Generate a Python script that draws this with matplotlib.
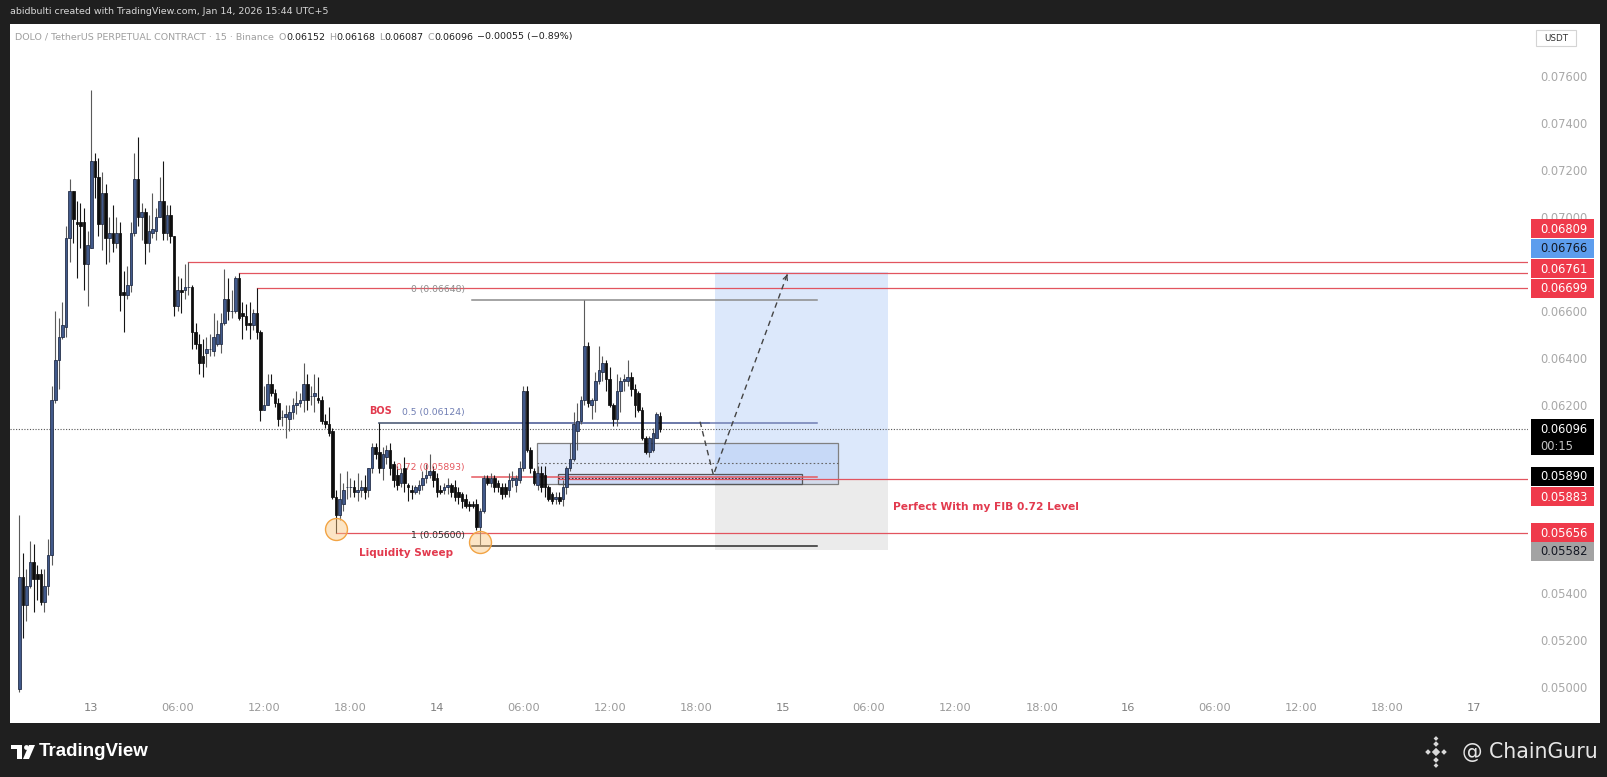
import matplotlib
matplotlib.use('Agg')
import matplotlib.pyplot as plt
from matplotlib.patches import Rectangle, Polygon, Circle

plt.rcParams['font.family'] = ['DejaVu Sans']

W, H = 1607, 777

# ---------------- data (15-min candles, Jan 12 19:00 -> Jan 14 15:30) -------------
opens = [
    .0499, .0547, .0535, .0543, .0553, .0548, .0548, .0536, .0543, .0556,
    .0622, .0639, .0649, .0653, .0691, .0711, .0698, .0698, .0698, .0680,
    .0687, .0724, .0717, .0697, .0710, .0691, .0693, .0689, .0693, .0668,
    .0667, .0671, .0693, .0716, .0700, .0702, .0689, .0693, .0694, .0700,
    .0707, .0693, .0701, .0692, .0662, .0669, .0669, .0670, .0670, .0651,
    .0646, .0641, .0642, .0644, .0643, .0646, .0646, .0655, .0665, .0660,
    .0660, .0674, .0659, .0658, .0655, .0654, .0659, .0651, .0618, .0620,
    .0629, .0625, .0621, .0615, .0615, .0614, .0617, .0620, .0621, .0622,
    .0629, .0624, .0624, .0623, .0622, .0613, .0612, .0609, .0581, .0573,
    .0578, .0585, .0585, .0585, .0583, .0584, .0585, .0584, .0593, .0602,
    .0600, .0593, .0598, .0601, .0595, .0590, .0587, .0593, .0586, .0584,
    .0583, .0584, .0586, .0589, .0590, .0592, .0589, .0584, .0584, .0585,
    .0586, .0585, .0583, .0582, .0580, .0578, .0578, .0578, .0568, .0575,
    .0589, .0587, .0589, .0587, .0585, .0585, .0584, .0588, .0586, .0588,
    .0593, .0626, .0601, .0592, .0586, .0591, .0590, .0585, .0582, .0580,
    .0581, .0580, .0585, .0593, .0597, .0609, .0613, .0622, .0645, .0620,
    .0622, .0630, .0634, .0638, .0631, .0620, .0614, .0626, .0630, .0630,
    .0632, .0627, .0625, .0618, .0606, .0600, .0601, .0606, .06152]
highs = [
    .0573, .0557, .0550, .0562, .0561, .0552, .0550, .0550, .0563, .0628,
    .0660, .0657, .0664, .0696, .0716, .0711, .0707, .0706, .0704, .0694,
    .0754, .0727, .0725, .0719, .0714, .0700, .0705, .0700, .0698, .0677,
    .0679, .0698, .0727, .0734, .0706, .0704, .0701, .0710, .0704, .0717,
    .0724, .0705, .0705, .0692, .0675, .0674, .0680, .06809, .0671, .0655,
    .0650, .0648, .0649, .0650, .0659, .0656, .0659, .0678, .0674, .0669,
    .0675, .06761, .0664, .0663, .0664, .0661, .06699, .0652, .0628, .0633,
    .0633, .0627, .0623, .0618, .0620, .0620, .0623, .0626, .0625, .0638,
    .0633, .0628, .0633, .0632, .0624, .0616, .0619, .0610, .0584, .0591,
    .0587, .0592, .0589, .0588, .0591, .0588, .0590, .0593, .0604, .0604,
    .06124, .0602, .0603, .0604, .0596, .0594, .0593, .0598, .0587, .0586,
    .0586, .0588, .0592, .0595, .0599, .0594, .0591, .0586, .0587, .0589,
    .0587, .0588, .0585, .0583, .0582, .0579, .0579, .0580, .0576, .0590,
    .0590, .0591, .0590, .0588, .0587, .0587, .0591, .0592, .0590, .0596,
    .0628, .0628, .0602, .0593, .0594, .0594, .0594, .0586, .0583, .0583,
    .0583, .0588, .0594, .0604, .0617, .0621, .0624, .06648, .0647, .0623,
    .0634, .0645, .0641, .0639, .0636, .0621, .0633, .0632, .0633, .0639,
    .0634, .0629, .0626, .0619, .0607, .0607, .0610, .0617, .06168]
lows = [
    .0498, .0521, .0528, .0542, .0532, .0537, .0535, .0532, .0539, .0552,
    .0621, .0627, .0648, .0649, .0681, .0689, .0674, .0687, .0669, .0662,
    .0687, .0708, .0692, .0686, .0680, .0681, .0685, .0687, .0660, .0651,
    .0665, .0668, .0692, .0696, .0690, .0680, .0685, .0691, .0690, .0700,
    .0690, .0690, .0689, .0658, .0660, .0659, .0665, .0667, .0644, .0644,
    .0633, .0632, .0636, .0641, .0641, .0645, .0642, .0654, .0656, .0657,
    .0659, .0656, .0648, .0652, .0648, .0652, .0648, .0613, .0618, .0620,
    .0624, .0619, .0611, .0611, .0606, .0609, .0614, .0616, .0619, .0617,
    .0618, .0620, .0617, .0621, .0612, .0610, .0607, .0580, .05656, .0571,
    .0575, .0580, .0581, .0581, .0579, .0581, .0580, .0581, .0591, .0597,
    .0591, .0588, .0595, .0590, .0585, .0584, .0585, .0583, .0579, .0580,
    .0582, .0582, .0584, .0587, .0589, .0585, .0581, .0582, .0582, .0582,
    .0581, .0579, .0578, .0576, .0576, .0575, .0576, .0567, .0560, .0574,
    .0586, .0585, .0583, .0583, .0580, .0581, .0581, .0585, .0583, .0587,
    .0592, .0600, .0591, .0586, .0584, .0583, .0581, .0579, .0578, .0578,
    .0578, .0577, .0582, .0592, .0596, .0601, .0612, .0620, .0619, .0614,
    .0617, .0629, .0630, .0626, .0619, .0611, .0611, .0617, .0626, .0628,
    .0624, .0615, .0617, .0605, .0599, .0598, .0600, .0606, .06087]
closes = [
    .0547, .0535, .0543, .0553, .0546, .0546, .0536, .0543, .0556, .0622,
    .0639, .0649, .0654, .0691, .0711, .0699, .0697, .0696, .0680, .0688,
    .0724, .0717, .0697, .0710, .0691, .0693, .0689, .0693, .0667, .0667,
    .0671, .0693, .0716, .0700, .0702, .0689, .0694, .0695, .0700, .0707,
    .0693, .0701, .0692, .0662, .0669, .0668, .0670, .0670, .0651, .0646,
    .0638, .0638, .0644, .0644, .0649, .0650, .0655, .0665, .0660, .0660,
    .0674, .0657, .0658, .0654, .0654, .0659, .0651, .0618, .0620, .0629,
    .0625, .0621, .0614, .0615, .0616, .0617, .0620, .0621, .0622, .0629,
    .0622, .0624, .0625, .0622, .0613, .0612, .0608, .0581, .0573, .0580,
    .0584, .0585, .0585, .0583, .0584, .0585, .0583, .0593, .0602, .0599,
    .0593, .0599, .0601, .0593, .0588, .0586, .0591, .0587, .0585, .0583,
    .0585, .0586, .0589, .0590, .0592, .0588, .0583, .0583, .0585, .0586,
    .0583, .0581, .0581, .0579, .0577, .0577, .0577, .0568, .0575, .0589,
    .0587, .0589, .0585, .0585, .0582, .0582, .0588, .0589, .0589, .0593,
    .0626, .0601, .0593, .0587, .0591, .0585, .0585, .0580, .0579, .0581,
    .0579, .0585, .0593, .0597, .0612, .0613, .0622, .0645, .0621, .0622,
    .0630, .0635, .0638, .0631, .0620, .0614, .0626, .0630, .0631, .0632,
    .0627, .0620, .0618, .0606, .0600, .0606, .0608, .0616, .06096]

header_change = -0.00055
header_pct = -0.89

time_labels = ['13', '06:00', '12:00', '18:00', '14', '06:00', '12:00', '18:00',
               '15', '06:00', '12:00', '18:00', '16', '06:00', '12:00', '18:00', '17']
day_labels = {'13', '14', '15', '16', '17'}
# price-scale tick labels that are visible (others are covered by level labels)
price_ticks = [0.076, 0.074, 0.072, 0.070, 0.066, 0.064, 0.062,
               0.054, 0.052, 0.050]

red_levels = [0.06809, 0.06761, 0.06699, 0.05656, 0.05883]
red_starts = [47, 61, 66, 88, 149.6]

fib_names = ['0', '0.5', '0.72', '1']
fib_levels = [0.06648, 0.06124, 0.05893, 0.05600]
fib_colors = ['#8c8c8c', '#6f7db3', '#e5585f', '#2b2b2b']

bos_level = 0.06124
last_price = 0.06096
entry, target, stop = 0.05883, 0.06766, 0.05582
zone_top, zone_bot, zone_mid = 0.06037, 0.05862, 0.05952
inner_top, inner_line = 0.05905, 0.05890
path_x = [189.1, 192.8, 213.6]
path_y = [0.06129, 0.05902, 0.06767]
sweep_x = [88, 128]
sweep_y = [0.05672, 0.05617]

# price-scale labels: (value, face, text colour, vertical nudge px)
scale_labels = [
    (0.06809, '#ef3a4b', 'white', -33),
    (0.06766, '#5d9ded', '#131722', -23.5),
    (0.06761, '#ef3a4b', 'white', -4.5),
    (0.06699, '#ef3a4b', 'white', 0.5),
    (0.05890, '#000000', 'white', -1.5),
    (0.05883, '#ef3a4b', 'white', 17.5),
    (0.05656, '#ef3a4b', 'white', 0),
    (0.05582, '#a3a3a3', '#131722', 1),
]

# ---------------- figure ----------------
fig = plt.figure(figsize=(W / 100, H / 100), dpi=100, facecolor='#1f1f1f')

bg = fig.add_axes([0, 0, 1, 1], zorder=-10)
bg.set_xlim(0, W); bg.set_ylim(H, 0); bg.axis('off')
bg.add_patch(Rectangle((10, 24), 1590, 699, facecolor='white', edgecolor='none'))

L_, R_, T_, B_ = 10, 1528, 24, 695
ax = fig.add_axes([L_ / W, 1 - B_ / H, (R_ - L_) / W, (B_ - T_) / H], zorder=1)
ax.set_facecolor('white')
ax.set_xlim(-2.58, 419.08)
ax.set_ylim(0.04966, 0.07821)
for s in ax.spines.values():
    s.set_visible(False)

# time axis
ax.set_xticks([20 + 24 * i for i in range(len(time_labels))])
ax.set_xticklabels(time_labels)
ax.tick_params(axis='x', length=0, pad=5.5, labelsize=8.2, labelcolor='#9a9a9a')
for t in ax.get_xticklabels():
    if t.get_text() in day_labels:
        t.set_color('#808080')
# price axis
ax.yaxis.tick_right()
ax.set_yticks(price_ticks)
ax.set_yticklabels(['%.5f' % p for p in price_ticks])
ax.tick_params(axis='y', length=0, pad=8.6, labelsize=8.3, labelcolor='#a8a8a8')

# position tool
ax.add_patch(Rectangle((193.3, entry), 48, target - entry, facecolor='#dce8fb',
                       edgecolor='none', zorder=1))
ax.add_patch(Rectangle((193.3, stop), 48, entry - stop, facecolor='#ebebeb',
                       edgecolor='none', zorder=1))

# zone boxes
ax.add_patch(Rectangle((143.8, zone_bot), 83.6, zone_top - zone_bot,
                       facecolor=(0.55, 0.68, 0.93, 0.25), edgecolor='#808080',
                       lw=0.9, zorder=2))
ax.plot([143.8, 227.4], [zone_mid, zone_mid], ls=(0, (1.5, 2)), color='#666666',
        lw=0.8, zorder=3)
ax.add_patch(Rectangle((149.6, zone_bot), 67.8, inner_top - zone_bot,
                       facecolor=(0.55, 0.68, 0.93, 0.25), edgecolor='#555555',
                       lw=0.9, zorder=2))
ax.plot([149.6, 217.4], [inner_line, inner_line], ls=(0, (1.5, 1.5)), color='#333333',
        lw=0.8, zorder=3)

# red horizontal rays
for lvl, xs in zip(red_levels, red_starts):
    ax.plot([xs, 419.08], [lvl, lvl], color='#e2545f', lw=0.9, zorder=3)

# current price line
ax.axhline(last_price, color='#555555', lw=0.8, ls=(0, (1, 1.5)), zorder=2)

# BOS line
ax.plot([100, 191.7], [bos_level, bos_level], color='#5d6a82', lw=1.3, zorder=3)
# fib levels
for name, lvl, col in zip(fib_names, fib_levels, fib_colors):
    ax.plot([125.8, 221.6], [lvl, lvl], color=col, lw=1.1, zorder=3)
    ax.annotate('%s (%.5f)' % (name, lvl), xy=(123.8, lvl), xytext=(0, 10),
                textcoords='offset pixels', ha='right', va='center', fontsize=6.7,
                color=col, zorder=5)

# candles
xs = list(range(len(opens)))
up = [c >= o for o, c in zip(opens, closes)]
for i in xs:
    lo = min(lows[i], opens[i], closes[i])
    hi = max(highs[i], opens[i], closes[i])
    ax.vlines(i, lo, hi, color='#5a5a5a' if up[i] else '#151515', lw=0.8, zorder=4)
ax.bar(xs, [c - o for o, c in zip(opens, closes)], bottom=opens, width=0.76,
       color=['#41598a' if u else '#0d0d0d' for u in up],
       edgecolor=['#1a2540' if u else '#0d0d0d' for u in up], lw=0.55, zorder=5)

# projected path
ax.plot(path_x, path_y, color='#444444', lw=1.0, ls=(0, (4, 3)), zorder=6)
ax.annotate('', xy=(path_x[-1], path_y[-1]), xytext=(path_x[-1] - 0.6, path_y[-1] - 0.00025),
            arrowprops=dict(arrowstyle='->', color='#444444', lw=0.9,
                            mutation_scale=8), zorder=6)

# sweep circles
ax.scatter(sweep_x, sweep_y, s=250, facecolor=(0.98, 0.78, 0.5, 0.45),
           edgecolor='#f2a444', lw=1.0, zorder=6)

# texts
ax.text(100.3, 0.06174, 'BOS', color='#e23a4e', fontsize=7.0, fontweight='bold',
        ha='center', va='center', zorder=7)
ax.text(107.4, 0.05570, 'Liquidity Sweep', color='#e23a4e', fontsize=7.5,
        fontweight='bold', ha='center', va='center', zorder=7)
ax.text(242.7, 0.05766, 'Perfect With my FIB 0.72 Level', color='#e23a4e',
        fontsize=7.7, fontweight='bold', ha='left', va='center', zorder=7)

# ---------------- overlay (pixel coords) ----------------
ov = fig.add_axes([0, 0, 1, 1], zorder=10)
ov.set_xlim(0, W); ov.set_ylim(H, 0); ov.axis('off'); ov.patch.set_alpha(0)


def py_of(p):
    return H - ax.transData.transform((0, p))[1]


for val, face, tc, nud in scale_labels:
    cy = py_of(val) + nud
    ov.add_patch(Rectangle((1531, cy - 9.5), 63, 19, facecolor=face, edgecolor='none'))
    ov.text(1540, cy + 0.5, '%.5f' % val, color=tc, fontsize=8.3, ha='left', va='center')
cy = py_of(last_price)
ov.add_patch(Rectangle((1531, cy - 10), 63, 36, facecolor='black', edgecolor='none'))
ov.text(1540, cy + 0.5, '%.5f' % last_price, color='white', fontsize=8.3, ha='left', va='center')
ov.text(1540, cy + 17.5, '00:15', color='#c4c4c4', fontsize=8.3, ha='left', va='center')

# USDT box
ov.add_patch(Rectangle((1536, 30), 40, 16, facecolor='white', edgecolor='#d4d4d4', lw=0.8))
ov.text(1556, 38.5, 'USDT', fontsize=6.3, color='#333333', ha='center', va='center')

# top title
ov.text(10, 12, 'abidbulti created with TradingView.com, Jan 14, 2026 15:44 UTC+5',
        color='#d6d6d6', fontsize=6.8, ha='left', va='center')

# header legend
r = fig.canvas.get_renderer()
segs = [('DOLO / TetherUS PERPETUAL CONTRACT \u00b7 15 \u00b7 Binance', '#9f9f9f', 5),
        ('O', '#9f9f9f', 0), ('%.5f' % opens[-1], '#1e1e1e', 4),
        ('H', '#9f9f9f', 0), ('%.5f' % highs[-1], '#1e1e1e', 4),
        ('L', '#9f9f9f', 0), ('%.5f' % lows[-1], '#1e1e1e', 4),
        ('C', '#9f9f9f', 0), ('%.5f' % closes[-1], '#1e1e1e', 4),
        ('\u2212%.5f (\u2212%.2f%%)' % (abs(header_change), abs(header_pct)), '#1e1e1e', 0)]
x0 = 15
for s, c, gap in segs:
    t = ov.text(x0, 37, s, color=c, fontsize=6.8, ha='left', va='center')
    x0 += t.get_window_extent(renderer=r).width + gap

# bottom branding
ov.add_patch(Rectangle((11, 745), 11, 4, facecolor='white', edgecolor='none'))
ov.add_patch(Rectangle((17, 745), 5, 14, facecolor='white', edgecolor='none'))
ov.add_patch(Circle((26.5, 747.5), 2.4, facecolor='white', edgecolor='none'))
ov.add_patch(Polygon([(23, 759), (29, 745), (35, 745), (29, 759)], closed=True,
                     facecolor='white', edgecolor='none'))
ov.text(39, 752, 'TradingView', color='white', fontsize=13.5, fontweight='bold',
        ha='left', va='center', family='Liberation Sans')

cxl, cyl = 1436, 752
for dx, dy, sz in [(0, 0, 4.2), (-8, 0, 2.8), (8, 0, 2.8), (0, -8, 2.8), (0, 8, 2.8),
                   (0, -13.5, 2.4), (0, 13.5, 2.4)]:
    ov.add_patch(Polygon([(cxl + dx, cyl + dy - sz), (cxl + dx + sz, cyl + dy),
                          (cxl + dx, cyl + dy + sz), (cxl + dx - sz, cyl + dy)],
                         closed=True, facecolor='#d9d9d9', edgecolor='none'))
ov.text(1598, 752, '@ ChainGuru', color='#e6e6e6', fontsize=14.8, ha='right', va='center')

fig.savefig('out.png', dpi=100, facecolor=fig.get_facecolor())
